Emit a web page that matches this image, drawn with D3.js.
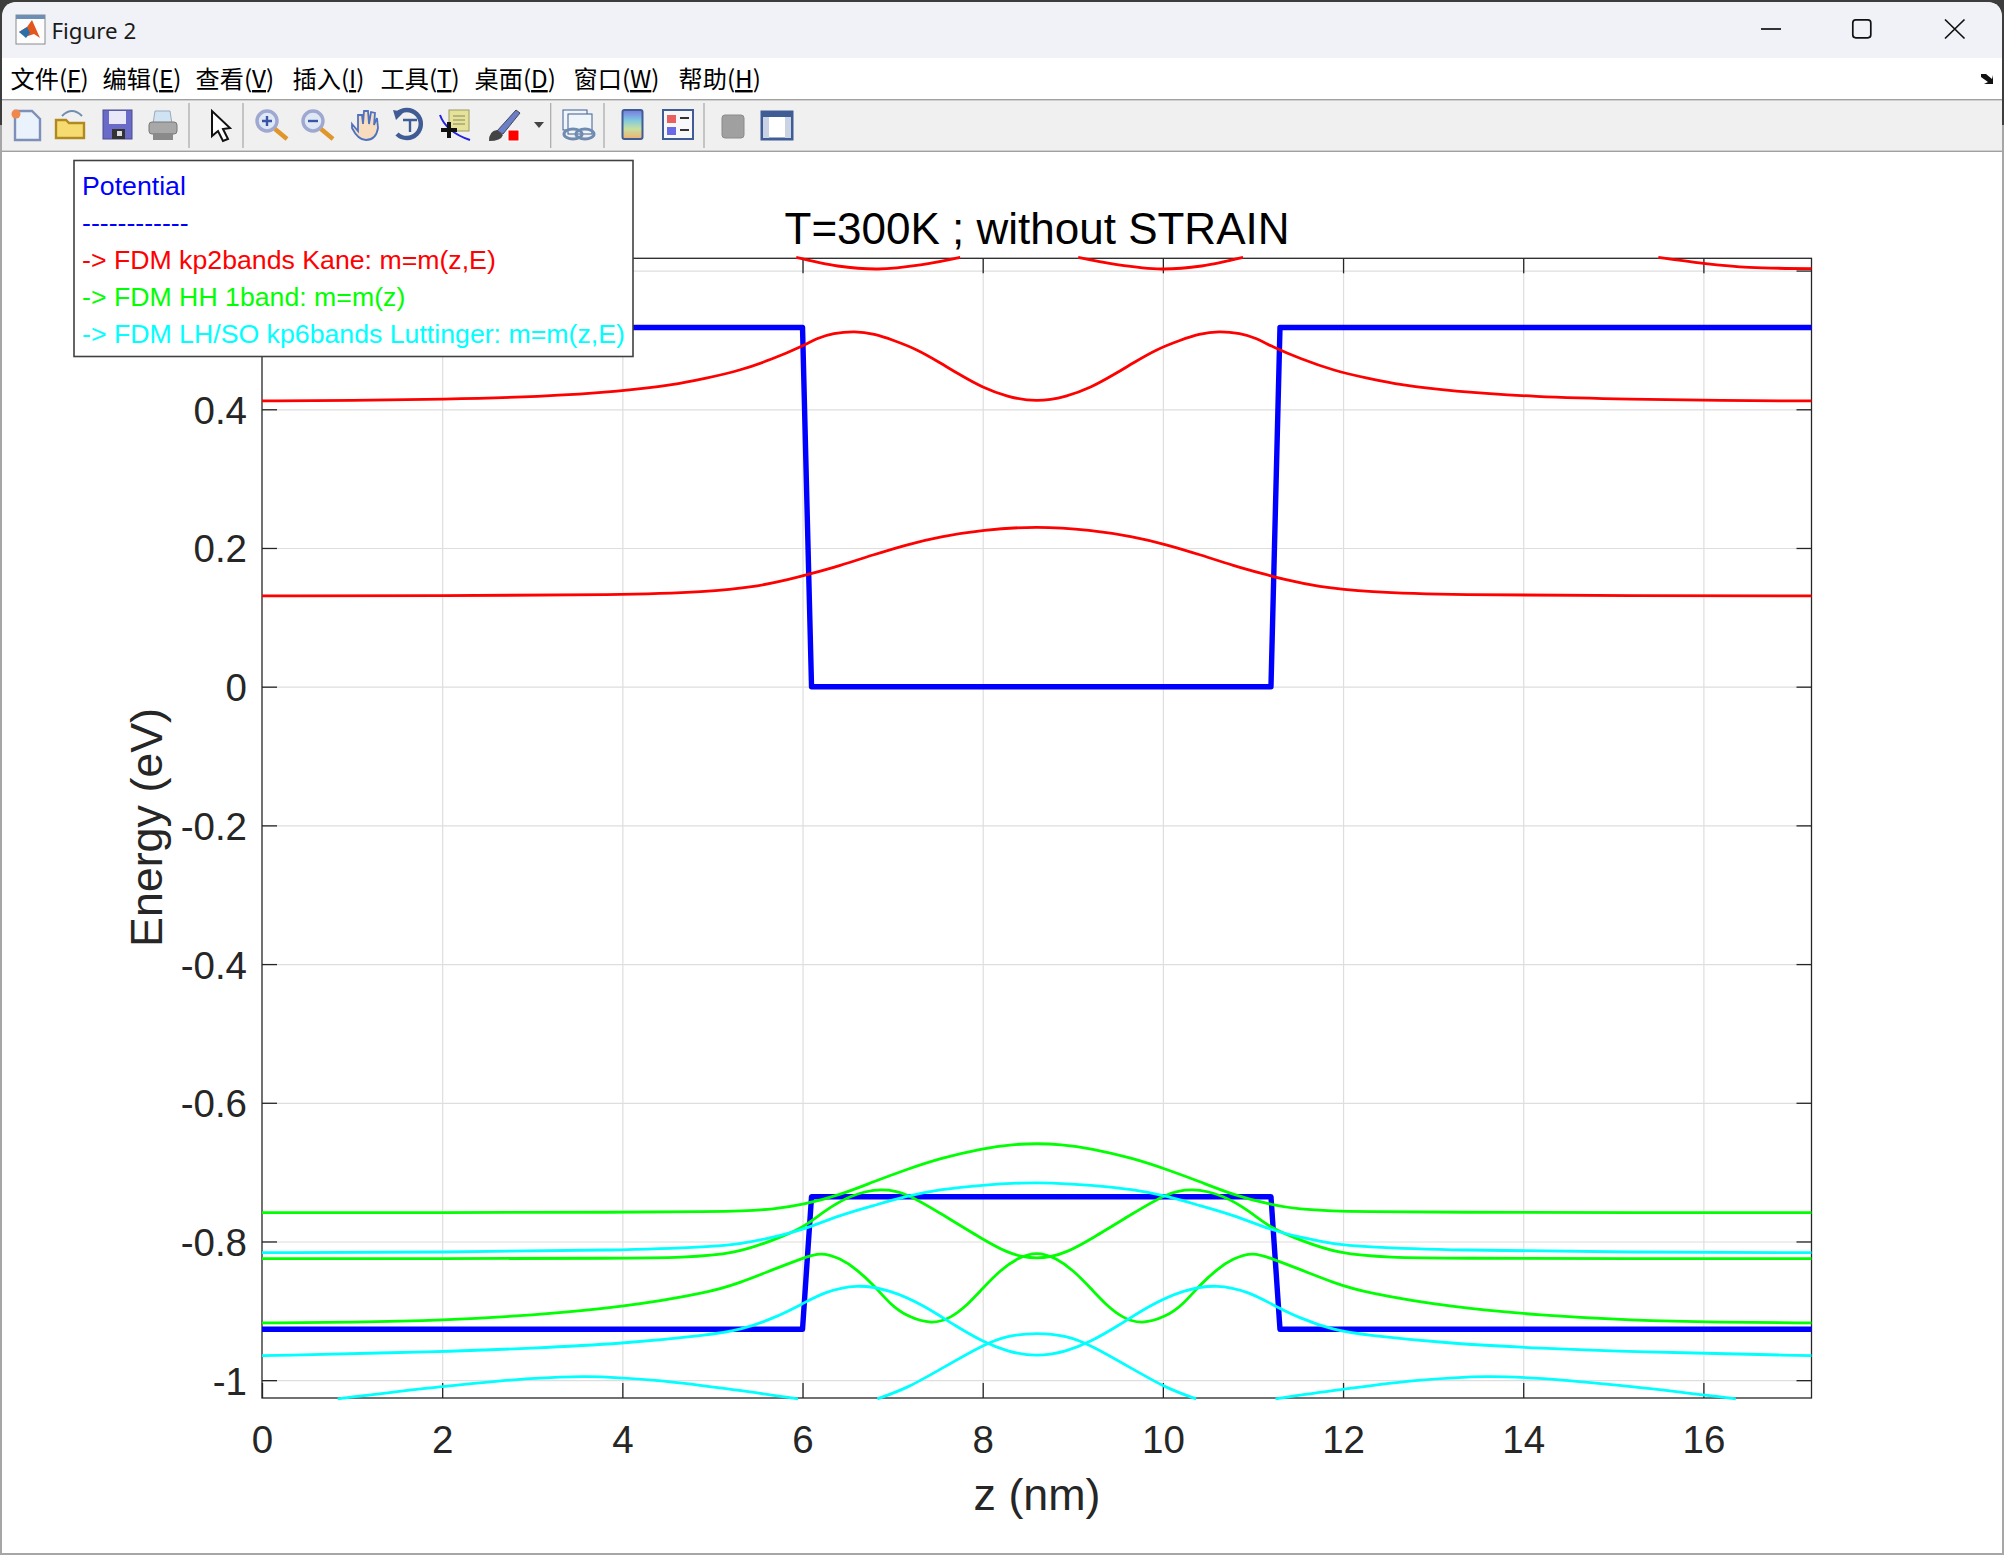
<!DOCTYPE html>
<html><head><meta charset="utf-8">
<script src="https://cdn.jsdelivr.net/npm/d3@7/dist/d3.min.js"></script>
<style>html,body{margin:0;padding:0;background:#fff}svg{display:block}
text{font-family:"Liberation Sans",Arial,sans-serif}
.cjk{font-family:"Noto Sans CJK SC","Noto Sans",sans-serif}
.ui{font-family:"Noto Sans","Open Sans",sans-serif}</style>
</head><body><svg id="c" width="2004" height="1555" viewBox="0 0 2004 1555"></svg>
<script>
// ---- chart text ----
const windowTitle = "Figure 2";
const menuItems = [["文件","F",11],["编辑","E",103],["查看","V",196],["插入","I",293],["工具","T",381],["桌面","D",475],["窗口","W",574],["帮助","H",679]];
const chartTitle = "T=300K ; without STRAIN";
const xLabel = "z (nm)";
const yLabel = "Energy (eV)";
const xTicks = [0,2,4,6,8,10,12,14,16];
const yTicks = [-1,-0.8,-0.6,-0.4,-0.2,0,0.2,0.4,0.6];
const yLabelsHidden = [0.6]; // covered by the legend box in the picture
const xDomain = [0,17.2];
const yDomain = [-1.0257,0.6177];
const legendLines = [["Potential","#0000ff"],["------------","#0000ff"],["-> FDM kp2bands Kane: m=m(z,E)","#ff0000"],["-> FDM HH 1band: m=m(z)","#00ff00"],["-> FDM LH/SO kp6bands Luttinger: m=m(z,E)","#00ffff"]];

// ---- data: [z (nm), E (eV)] ----
const potentialC = [[0,.518],[6,.518],[6.1,0],[11.2,0],[11.3,.518],[17.2,.518]];
const potentialV = [[0,-.9266],[6,-.9266],[6.1,-.7354],[11.2,-.7354],[11.3,-.9266],[17.2,-.9266]];
const kane1 = [[0,.131],[2,.131],[4,.1322],[4.93,.1365],[5.49,.1442],[5.86,.1548],[6.07,.162],[6.415,.1745],[6.78,.1899],[7.155,.2048],[7.525,.2163],[8,.226],[8.6,.2317],[9.2,.226],[9.675,.2163],[10.045,.2048],[10.42,.1899],[10.785,.1745],[11.13,.162],[11.34,.1548],[11.71,.1442],[12.27,.1365],[13.2,.1322],[15.2,.131],[17.2,.131]];
const kane2 = [[0,.412],[1,.4125],[2,.4144],[3.085,.418],[4,.426],[4.56,.435],[4.93,.4447],[5.3,.4557],[5.67,.4725],[6,.491],[6.156,.5023],[6.34,.5096],[6.58,.5128],[6.8,.5086],[7,.4999],[7.27,.4865],[7.525,.4672],[7.75,.4494],[8,.4312],[8.265,.4182],[8.6,.41],[8.935,.4182],[9.2,.4312],[9.45,.4494],[9.675,.4672],[9.93,.4865],[10.2,.4999],[10.4,.5086],[10.62,.5128],[10.86,.5096],[11.044,.5023],[11.2,.491],[11.53,.4725],[11.9,.4557],[12.27,.4447],[12.64,.435],[13.2,.426],[14.115,.418],[15.2,.4144],[16.2,.4125],[17.2,.412]];
const kane3a = [[0,.6028],[.69,.6047],[1.2,.6105],[1.7,.619]];
const kane3b = [[5.93,.619],[6.39,.6066],[6.84,.6023],[7.33,.6086],[7.75,.619]];
const kane3c = [[9.06,.619],[9.49,.6086],[9.98,.6023],[10.43,.6066],[10.89,.619]];
const kane3d = [[15.5,.619],[16,.6105],[16.51,.6047],[17.2,.6028]];
const hh1 = [[0,-.7584],[2,-.7584],[4,-.758],[5,-.7568],[5.31,-.756],[5.68,-.7536],[6,-.7473],[6.42,-.7329],[6.79,-.7137],[7.16,-.6959],[7.53,-.68],[8,-.6656],[8.34,-.6599],[8.6,-.6587],[8.86,-.6599],[9.2,-.6656],[9.67,-.68],[10.04,-.6959],[10.41,-.7137],[10.78,-.7329],[11.2,-.7473],[11.52,-.7536],[11.89,-.756],[12.2,-.7568],[13.2,-.758],[15.2,-.7584],[17.2,-.7584]];
const hh2 = [[0,-.8248],[2,-.8248],[4,-.8243],[4.68,-.8233],[5.25,-.818],[5.68,-.7978],[6,-.781],[6.23,-.757],[6.53,-.7329],[6.88,-.7225],[7.16,-.7305],[7.53,-.7594],[8,-.7969],[8.27,-.816],[8.46,-.8228],[8.6,-.8239],[8.74,-.8228],[8.93,-.816],[9.2,-.7969],[9.67,-.7594],[10.04,-.7305],[10.32,-.7225],[10.67,-.7329],[10.97,-.757],[11.2,-.781],[11.52,-.7978],[11.95,-.818],[12.52,-.8233],[13.2,-.8243],[15.2,-.8248],[17.2,-.8248]];
const hh3 = [[0,-.9175],[1,-.9165],[2,-.9137],[3,-.9065],[4,-.8949],[4.96,-.8738],[5.31,-.8593],[5.68,-.8401],[6,-.8243],[6.2,-.8152],[6.42,-.8243],[6.6,-.8401],[6.79,-.8627],[6.97,-.8901],[7.16,-.9084],[7.44,-.9195],[7.64,-.9108],[7.83,-.8916],[8,-.8675],[8.2,-.841],[8.38,-.8243],[8.6,-.814],[8.82,-.8243],[9,-.841],[9.2,-.8675],[9.37,-.8916],[9.56,-.9108],[9.76,-.9195],[10.04,-.9084],[10.23,-.8901],[10.41,-.8627],[10.6,-.8401],[10.78,-.8243],[11,-.8152],[11.2,-.8243],[11.52,-.8401],[11.89,-.8593],[12.24,-.8738],[13.2,-.8949],[14.2,-.9065],[15.2,-.9137],[16.2,-.9165],[17.2,-.9175]];
const lh1 = [[0,-.8161],[2,-.8156],[4,-.8127],[5,-.8075],[5.31,-.8036],[5.68,-.794],[6,-.7834],[6.42,-.7618],[6.79,-.7483],[7.16,-.7344],[7.53,-.7248],[8,-.7185],[8.46,-.7152],[8.74,-.7152],[9.2,-.7185],[9.67,-.7248],[10.04,-.7344],[10.41,-.7483],[10.78,-.7618],[11.2,-.7834],[11.52,-.794],[11.89,-.8036],[12.2,-.8075],[13.2,-.8127],[15.2,-.8156],[17.2,-.8161]];
const lh2 = [[0,-.9647],[2,-.9589],[3,-.954],[4,-.9474],[4.96,-.9348],[5.31,-.9276],[5.68,-.9108],[6,-.8901],[6.23,-.8733],[6.6,-.8611],[6.97,-.8699],[7.34,-.8915],[7.71,-.9228],[8,-.9444],[8.27,-.9588],[8.6,-.9665],[8.93,-.9588],[9.2,-.9444],[9.49,-.9228],[9.86,-.8915],[10.23,-.8699],[10.6,-.8611],[10.97,-.8733],[11.2,-.8901],[11.52,-.9108],[11.89,-.9276],[12.24,-.9348],[13.2,-.9474],[14.2,-.954],[15.2,-.9589],[17.2,-.9647]];
const so1a = [[.84,-1.027],[2,-1.0094],[2.98,-.9978],[3.6,-.9949],[4.4,-1.0007],[5.25,-1.0141],[5.95,-1.027]];
const so1b = [[6.83,-1.027],[7.16,-1.0117],[7.53,-.9843],[8,-.9492],[8.27,-.9358],[8.6,-.9312],[8.93,-.9358],[9.2,-.9492],[9.67,-.9843],[10.04,-1.0117],[10.37,-1.027]];
const so1c = [[11.25,-1.027],[11.95,-1.0141],[12.8,-1.0007],[13.6,-.9949],[14.22,-.9978],[15.2,-1.0094],[16.36,-1.027]];

const redCurves = [kane1,kane2];
const redCaps = [kane3a,kane3b,kane3c,kane3d];
const greenCurves = [hh1,hh2,hh3];
const cyanCurves = [lh1,lh2,so1b];
const cyanCaps = [so1a,so1c];

// ---- window chrome ----
const svg = d3.select("#c");
svg.append("rect").attr("width",2004).attr("height",1555).attr("fill","#3d3d3d");
svg.append("rect").attr("x",0).attr("y",125).attr("width",2004).attr("height",1430).attr("fill","#a6a6a6");
svg.append("path").attr("fill","#ffffff").attr("d","M2,1553 V18 Q2,2 18,2 H1986 Q2002,2 2002,18 V1553 Z");
svg.append("path").attr("fill","#f1f2f8").attr("d","M2,58 V18 Q2,2 18,2 H1986 Q2002,2 2002,18 V58 Z");
svg.append("rect").attr("x",2).attr("y",100).attr("width",2000).attr("height",51).attr("fill","#f0f0f0");
svg.append("rect").attr("x",2).attr("y",99).attr("width",2000).attr("height",1.4).attr("fill","#a0a0a0");
svg.append("rect").attr("x",2).attr("y",150.6).attr("width",2000).attr("height",1.4).attr("fill","#a0a0a0");

// app icon
const app = svg.append("g");
app.append("rect").attr("x",16).attr("y",15).attr("width",29).attr("height",29).attr("fill","#fdfdfd").attr("stroke","#8a8a8a");
app.append("rect").attr("x",16).attr("y",15).attr("width",29).attr("height",4).attr("fill","#6c8fb5");
app.append("path").attr("d","M19,32 L27,27 L32,20 L40,38 L34,34 L28,36 Z").attr("fill","#e2571e");
app.append("path").attr("d","M19,32 L27,27 L30,33 L26,38 Z").attr("fill","#2b6ea8");
svg.append("text").attr("class","ui").attr("x",51.5).attr("y",39).attr("font-size",22.3).attr("fill","#1a1a1a").text(windowTitle);

// window buttons
const wb = svg.append("g").attr("fill","none").attr("stroke","#111").attr("stroke-width",1.7);
wb.append("path").attr("d","M1761,29 H1781");
wb.append("rect").attr("x",1852.8).attr("y",19.8).attr("width",18).attr("height",18).attr("rx",3);
wb.append("path").attr("d","M1945,19.5 L1964.5,38.5 M1964.5,19.5 L1945,38.5");
svg.append("path").attr("d","M1981,74 L1986,74 L1992,79 L1993,75 L1993,84 L1984,84 L1988,82 L1981,77 Z").attr("fill","#111");

// menu
menuItems.forEach(([label,key,x])=>{
  const t = svg.append("text").attr("class","cjk").attr("x",x-.5).attr("y",88).attr("font-size",24.2).attr("fill","#000");
  t.append("tspan").text(label+"(");
  t.append("tspan").attr("text-decoration","underline").text(key);
  t.append("tspan").text(")");
});

// toolbar separators
[189,243,550.7,604,704].forEach(x=>svg.append("rect").attr("x",x-.6).attr("y",103).attr("width",1.2).attr("height",45).attr("fill","#a8a8a8"));

// toolbar icons
const tb = svg.append("g");
const P=(d,f,s,w)=>tb.append("path").attr("d",d).attr("fill",f||"none").attr("stroke",s||"none").attr("stroke-width",w||1);
const R=(x,y,w,h,f,s,r)=>tb.append("rect").attr("x",x).attr("y",y).attr("width",w).attr("height",h).attr("fill",f).attr("stroke",s||"none").attr("rx",r||0);
const C=(x,y,r,f,s,w)=>tb.append("circle").attr("cx",x).attr("cy",y).attr("r",r).attr("fill",f||"none").attr("stroke",s||"none").attr("stroke-width",w||1);
// new
P("M15,111 H32 L40,119 V140 H15 Z","#eaf2fb","#7f90b8",2.4); C(16,114,4.5,"#f0874d");
// open
P("M56,120 H66 L69,123 H84 V138 H56 Z","#f6dc70","#b08a20",2.4); P("M62,116 Q72,106 82,116","none","#6f8fb0",2);
// save
R(103,110,29,29,"#6a6ac8","#4a4a90"); R(109,111,17,13,"#e8e8f8"); R(112,129,13,10,"#333");R(117,131,5,5,"#ddd");
// print
P("M155,111 L170,111 L172,124 L153,124 Z","#cfe3f2","#99aabb"); R(149,122,28,12,"#a8a8a8","#777",3); R(153,133,20,7,"#8a8a8a");
// arrow
P("M212,111 V136 L218,131 L223,141 L228,139 L223,129 L230,128 Z","#ffffff","#111",2);
// zoom in / out
[[267,"+"],[313,"-"]].forEach(([x,s])=>{C(x,121,10,"#dfe8f5","#9fa8d0",3.4);
 P(`M${x+8},129 L${x+20},139`,"none","#e0962a",4.5);
 P(`M${x-5},121 H${x+5}`+(s==="+"?` M${x},116 V126`:""),"none","#3a55a8",2.4);});
// hand
P("M352,124 L358,131 L358,115 L362,115 L363,124 L364,111 L368,111 L369,124 L371,112 L375,113 L374,125 L377,118 L378,128 Q376,140 366,140 Q358,140 352,128 Z","#f7dcc0","#4f72c0",1.8);
// rotate
P("M397,114 A14,14 0 1 1 397,134","none","#3f5c94",4.5); P("M393,110 L404,112 L396,120 Z","#3f5c94"); P("M403,120 H417 M410,120 V132","none","#3f5c94",2.4);
// data cursor
R(449,110,20,21,"#e6e29a","#999a60"); P("M453,116 H465 M453,120 H465 M453,124 H465","none","#a8a870",1.5);
P("M440,115 Q446,132 470,140","none","#2020e0",2); P("M441,130 H457 M449,122 V138","none","#111",4);
// brush
P("M497,131 L516,110 L520,113 L503,134 Z","#6a7fc8","#445"); P("M489,141 Q489,131 497,130 L503,135 Q501,141 489,141 Z","#444");
R(508,130,11,11,"#ff0000","#ffffff");
P("M534,122 H544 L539,128 Z","#444");
// link
R(563,110,24,20,"#f0f5fa","#3f5c94"); R(568,114,24,20,"#f0f5fa","#3f5c94");
tb.append("ellipse").attr("cx",573).attr("cy",134).attr("rx",9).attr("ry",5).attr("fill","none").attr("stroke","#6f8bb0").attr("stroke-width",3);
tb.append("ellipse").attr("cx",585).attr("cy",134).attr("rx",9).attr("ry",5).attr("fill","none").attr("stroke","#6f8bb0").attr("stroke-width",3);
// colorbar
const defs = svg.append("defs");
const lg = defs.append("linearGradient").attr("id","cb").attr("x1",0).attr("x2",0).attr("y1",0).attr("y2",1);
[["0","#7878e0"],[".35","#80c8e0"],[".65","#c8e0a0"],["1","#f0b070"]].forEach(([o,c])=>lg.append("stop").attr("offset",o).attr("stop-color",c));
R(622.5,110,20,29,"url(#cb)","#3f5c94",2).attr("stroke-width",2);
// legend
R(663,110,30,29,"#f8f8fb","#3f5c94").attr("stroke-width",2);
R(667,115,9,8,"#e86060"); R(667,127,9,8,"#6a6ae8"); P("M680,118 H689 M680,130 H689","none","#333",2);
// plot tools
R(722,115,22,23,"#a0a0a0","#8a8a8a",3);
R(762,112,30,27,"#ffffff","#3f5c94").attr("stroke-width",3); R(762,112,30,5,"#3f5c94");
R(763,117,6,21,"#c9d3e3"); R(785,117,6,21,"#c9d3e3");

// ---- axes ----
const W = {l:262,r:1811.5,t:258.3,b:1398};
const x = d3.scaleLinear().domain(xDomain).range([W.l,W.r]);
const y = d3.scaleLinear().domain(yDomain).range([W.b,W.t]);
const axisColor = "#262626";
const tickFont = 38.5, labelFont = 44.8, titleFont = 44;
const hyphen = v => yLabelsHidden.includes(v) ? "" : String(v);
const plain = g=>{g.select(".domain").remove();};

// grid
svg.append("g").attr("transform",`translate(0,${W.b})`)
  .call(d3.axisBottom(x).tickValues(xTicks.filter(v=>v>0)).tickSize(-(W.b-W.t)).tickFormat(""))
  .call(plain).call(g=>g.selectAll("line").attr("stroke","#dedede").attr("stroke-width",1.2));
svg.append("g").attr("transform",`translate(${W.l},0)`)
  .call(d3.axisLeft(y).tickValues(yTicks).tickSize(-(W.r-W.l)).tickFormat(""))
  .call(plain).call(g=>g.selectAll("line").attr("stroke","#dedede").attr("stroke-width",1.2));

// box
svg.append("rect").attr("x",W.l).attr("y",W.t).attr("width",W.r-W.l).attr("height",W.b-W.t).attr("fill","none").attr("stroke",axisColor).attr("stroke-width",1.3);

// ticks and labels on four sides
const bottom = svg.append("g").attr("transform",`translate(0,${W.b})`)
  .call(d3.axisBottom(x).tickValues(xTicks).tickSizeInner(-15).tickSizeOuter(0).tickFormat(hyphen)).call(plain);
bottom.selectAll("text").attr("y",55).attr("dy",0).attr("font-size",tickFont).attr("font-family","Liberation Sans").attr("fill",axisColor);
const left = svg.append("g").attr("transform",`translate(${W.l},0)`)
  .call(d3.axisLeft(y).tickValues(yTicks).tickSizeInner(-15).tickSizeOuter(0).tickFormat(hyphen)).call(plain);
left.selectAll("text").attr("x",-15).attr("dy",14).attr("font-size",tickFont).attr("font-family","Liberation Sans").attr("fill",axisColor);
left.selectAll("text").filter(d=>yLabelsHidden.includes(d)).remove();
svg.append("g").attr("transform",`translate(0,${W.t})`)
  .call(d3.axisTop(x).tickValues(xTicks).tickSizeInner(-15).tickSizeOuter(0).tickFormat("")).call(plain);
svg.append("g").attr("transform",`translate(${W.r},0)`)
  .call(d3.axisRight(y).tickValues(yTicks).tickSizeInner(-15).tickSizeOuter(0).tickFormat("")).call(plain);
svg.selectAll(".tick line").filter(function(){return d3.select(this).attr("stroke")==="currentColor";}).attr("stroke",axisColor).attr("stroke-width",1.3);

svg.append("text").attr("x",1037).attr("y",244).attr("text-anchor","middle").attr("font-size",titleFont).attr("fill","#000").text(chartTitle);
svg.append("text").attr("x",1037).attr("y",1510).attr("text-anchor","middle").attr("font-size",labelFont).attr("fill",axisColor).text(xLabel);
svg.append("text").attr("transform","translate(162,827.5) rotate(-90)").attr("text-anchor","middle").attr("font-size",labelFont).attr("fill",axisColor).text(yLabel);

// ---- curves ----
const straight = d3.line().x(d=>x(d[0])).y(d=>y(d[1]));
const smooth = d3.line().x(d=>x(d[0])).y(d=>y(d[1])).curve(d3.curveBasis);
const caps = d3.line().x(d=>x(d[0])).y(d=>y(d[1])).curve(d3.curveCatmullRom.alpha(0.5));
const plotLine=(gen,data,color,w,join)=>svg.append("path").datum(data).attr("d",gen).attr("fill","none").attr("stroke",color).attr("stroke-width",w).attr("stroke-linejoin",join||"round");
plotLine(straight,potentialC,"#0000ff",5.4);
plotLine(straight,potentialV,"#0000ff",5.4);
redCurves.forEach(c=>plotLine(smooth,c,"#ff0000",2.8));
redCaps.forEach(c=>plotLine(caps,c,"#ff0000",2.8));
greenCurves.forEach(c=>plotLine(smooth,c,"#00ff00",2.8));
cyanCurves.forEach(c=>plotLine(smooth,c,"#00ffff",2.8));
cyanCaps.forEach(c=>plotLine(caps,c,"#00ffff",2.8));

// ---- legend annotation box ----
svg.append("rect").attr("x",74).attr("y",160.5).attr("width",559).attr("height",196).attr("fill","#fff").attr("stroke","#404040").attr("stroke-width",1.6);
const legendY=[195,232,269,306,343];
legendLines.forEach(([t,c],i)=>svg.append("text").attr("x",82).attr("y",legendY[i]).attr("font-size",26.7).attr("fill",c).text(t));
</script></body></html>
